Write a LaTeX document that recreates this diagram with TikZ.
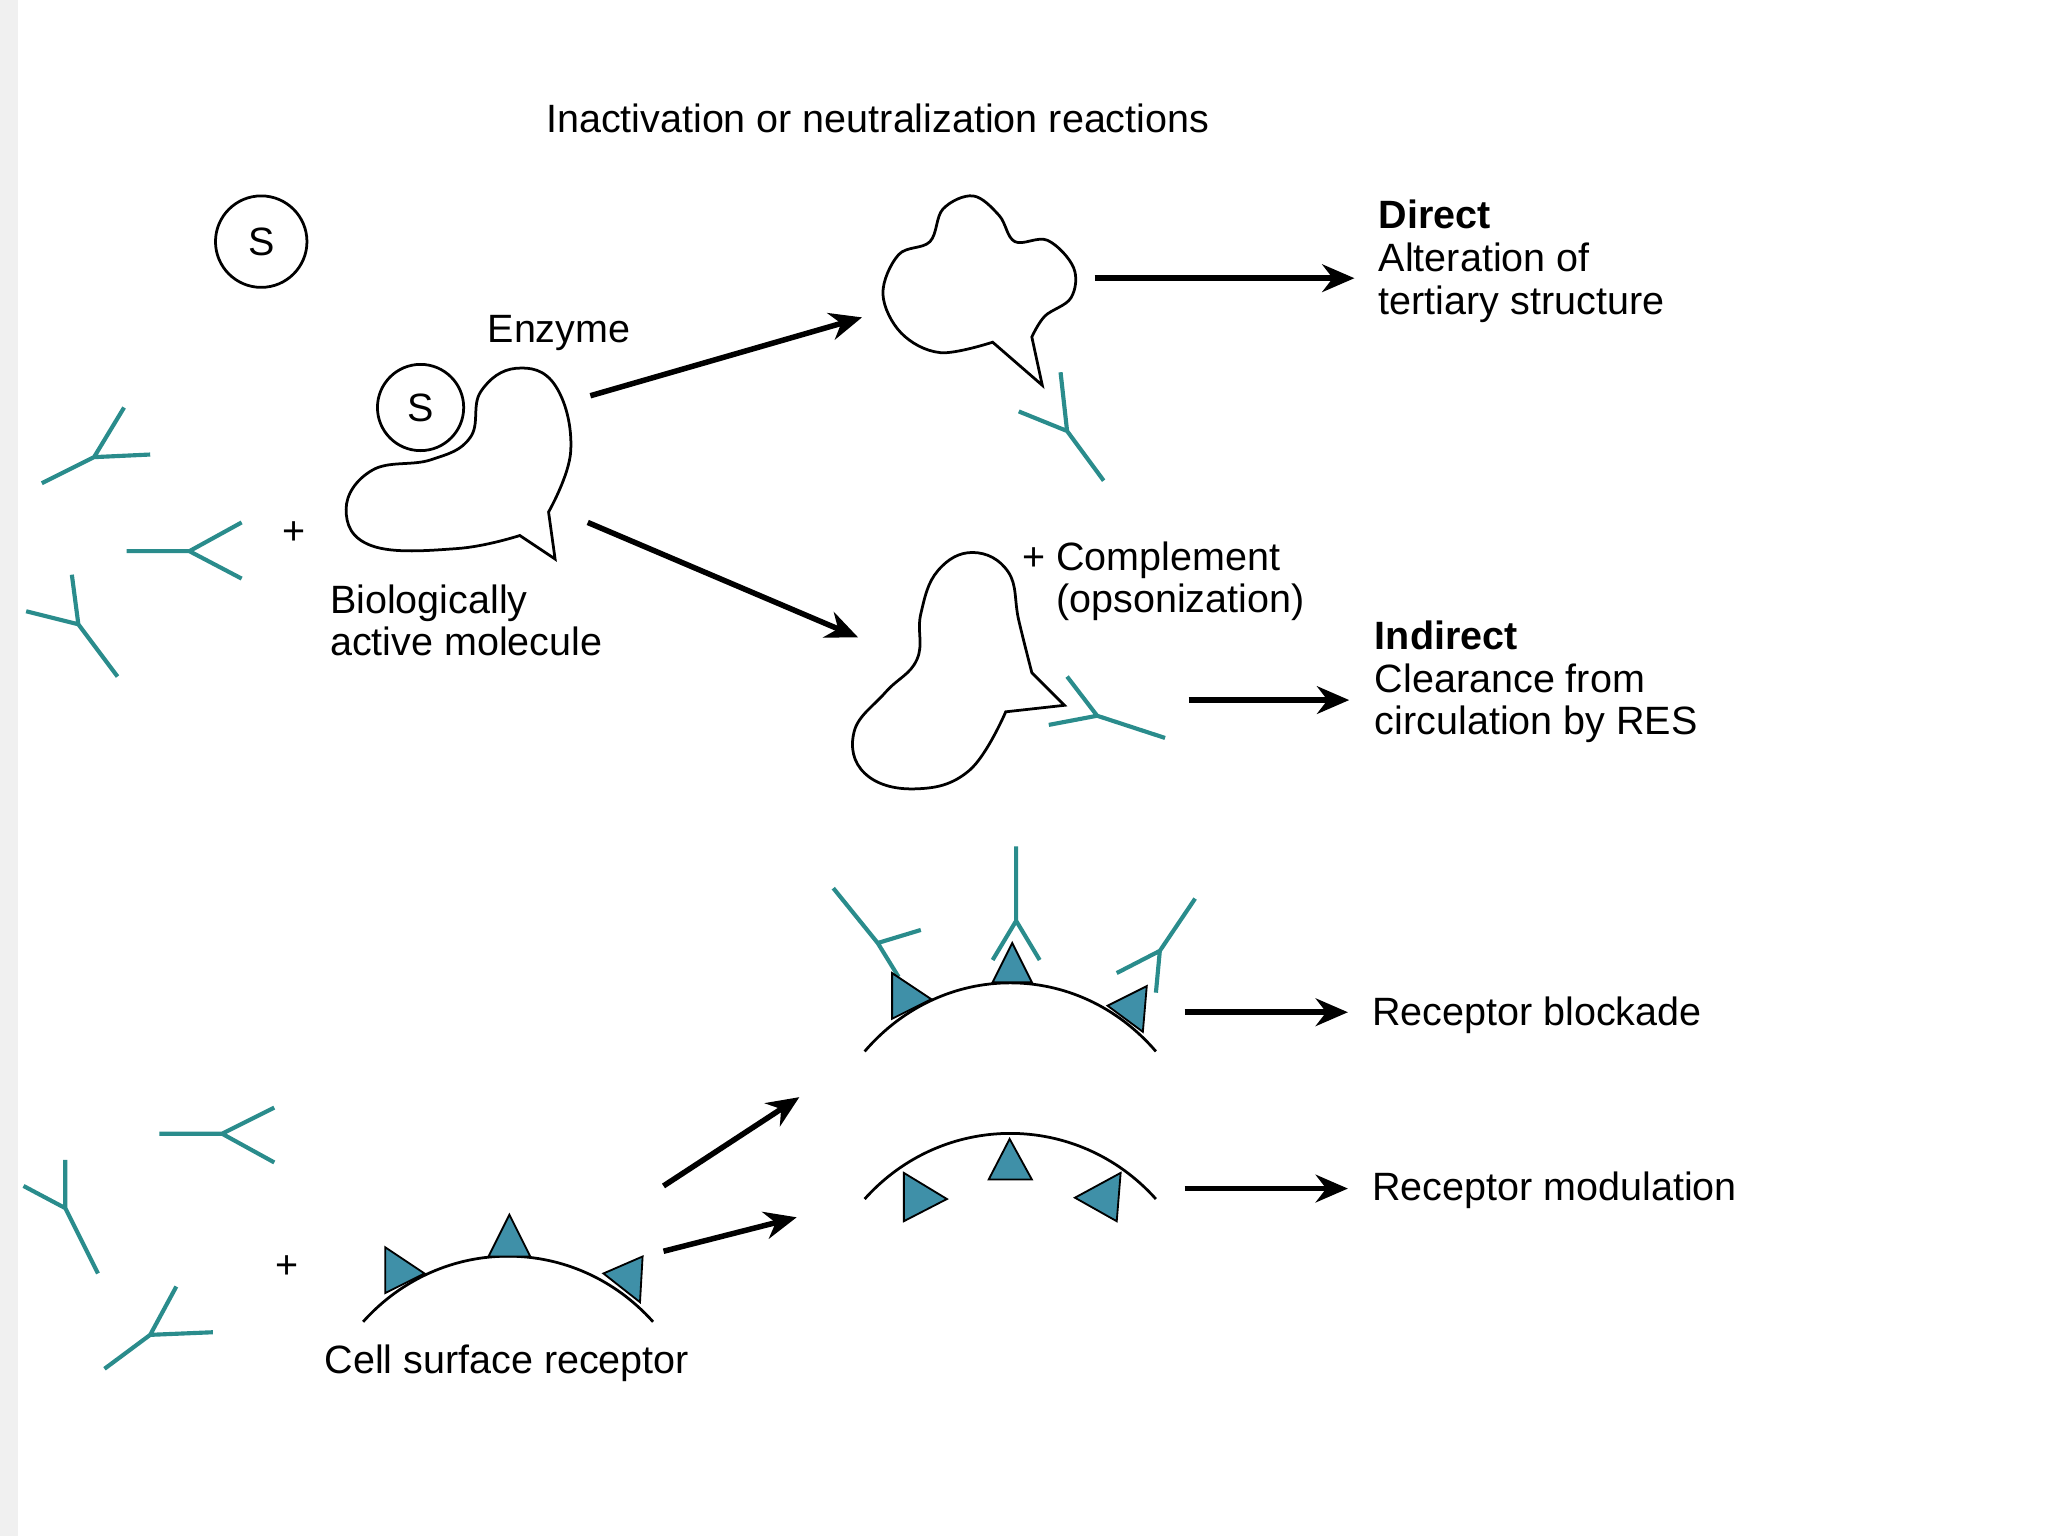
\documentclass[tikz,border=0pt]{standalone}
\usepackage{fontspec}
\setmainfont{Liberation Sans}
\usetikzlibrary{arrows.meta}
\definecolor{ab}{HTML}{2A8C8C}
\definecolor{rc}{HTML}{3F90A8}
\begin{document}
\begin{tikzpicture}[x=0.01cm,y=-0.01cm,
  every node/.style={font=\fontsize{8.6}{9.3}\selectfont,inner sep=0pt},
  lbl/.style={anchor=west,align=left},
  big/.style={line width=1.2pt,-{Stealth[length=7pt,width=6pt]}},
  outl/.style={line width=0.6pt},
  abd/.style={ab,line width=0.9pt},
  rcp/.style={fill=rc,draw=black,line width=0.4pt}]
\useasboundingbox (0,0) rectangle (1568,1176);
\fill[black!6] (0,0) rectangle (14,1176);
% antibody: fork, stem end, arm, arm
\newcommand{\antib}[4]{\draw[abd] #2 -- #1 -- #3 #1 -- #4;}
\antib{(72,350)}{(115,348)}{(95,312)}{(32,370)}
\antib{(145,422)}{(97,422)}{(185,400)}{(185,443)}
\antib{(60,478)}{(90,518)}{(55,440)}{(20,468)}
\antib{(817,330)}{(845,368)}{(812,285)}{(780,315)}
\antib{(840,548)}{(892,565)}{(817,518)}{(803,555)}
\antib{(672,722)}{(688,748)}{(638,680)}{(705,712)}
\antib{(778,705)}{(778,648)}{(760,735)}{(796,735)}
\antib{(888,728)}{(885,760)}{(915,688)}{(855,745)}
\antib{(170,868)}{(122,868)}{(210,848)}{(210,890)}
\antib{(50,925)}{(75,975)}{(50,888)}{(18,908)}
\antib{(115,1022)}{(80,1048)}{(135,985)}{(163,1020)}
% title
\node (title) at (672,91) {Inactivation or neutralization reactions};
% substrates
\node[draw,circle,outl,minimum size=0.7cm] (s1) at (200,185) {S};
\node[draw,circle,outl,minimum size=0.66cm] (s2) at (322,312) {S};
% enzyme
\draw[outl] plot[smooth,tension=0.7] coordinates {(420,392) (437,345) (425,295) (395,282) (368,300) (360,335) (330,352) (285,360) (265,390) (285,418) (350,420) (398,410)} -- (425,428) -- cycle;
\node (enz) at (428,255) {Enzyme};
\node (p1) at (225,408) {+};
\node[lbl] (bam) at (252,475) {Biologically\\active molecule};
% altered molecule
\draw[outl] plot[smooth,tension=0.6] coordinates {(760,262) (720,270) (690,255) (676,225) (688,195) (712,185) (722,160) (745,150) (765,165) (777,185) (802,184) (822,205) (820,228) (800,242) (790,258)} -- (798,295) -- cycle;
% opsonized molecule
\draw[outl] plot[smooth,tension=0.7] coordinates {(790,515) (780,475) (772,438) (745,423) (718,437) (705,470) (702,505) (678,530) (654,560) (662,592) (700,604) (742,590) (770,545)} -- (815,540) -- cycle;
\node[lbl] (comp) at (782,445) {+ Complement\\\hphantom{+ }(opsonization)};
% right labels
\node[lbl] (dir) at (1055,200) {\textbf{Direct}\\Alteration of\\tertiary structure};
\node[lbl] (ind) at (1052,522) {\textbf{Indirect}\\Clearance from\\circulation by RES};
\node[lbl] (rb) at (1050,777) {Receptor blockade};
\node[lbl] (rm) at (1050,911) {Receptor modulation};
\node (p2) at (220,970) {+};
\node (csr) at (388,1044) {Cell surface receptor};
% receptors
\draw[outl] (278,1012) .. controls (338,945) and (440,945) .. (500,1012);
\draw[rcp] (295,955) -- (295,990) -- (325,975) -- cycle;
\draw[rcp] (374,962) -- (406,962) -- (390,930) -- cycle;
\draw[rcp] (462,975) -- (492,962) -- (490,997) -- cycle;
\draw[outl] (662,805) .. controls (722,735) and (825,735) .. (885,805);
\draw[rcp] (683,745) -- (683,780) -- (713,765) -- cycle;
\draw[rcp] (760,752) -- (790,752) -- (775,722) -- cycle;
\draw[rcp] (848,770) -- (878,755) -- (875,790) -- cycle;
\draw[outl] (662,918) .. controls (722,851) and (825,851) .. (885,918);
\draw[rcp] (692,898) -- (692,935) -- (725,918) -- cycle;
\draw[rcp] (757,903) -- (790,903) -- (773,872) -- cycle;
\draw[rcp] (823,917) -- (858,898) -- (855,935) -- cycle;
% arrows
\coordinate (a1s) at (452,303); \coordinate (a1e) at (660,243);
\coordinate (a2s) at (450,400); \coordinate (a2e) at (657,488);
\coordinate (a3s) at (838,213); \coordinate (a3e) at (1037,213);
\coordinate (a4s) at (910,536); \coordinate (a4e) at (1033,536);
\coordinate (a5s) at (508,908); \coordinate (a5e) at (612,840);
\coordinate (a6s) at (508,958); \coordinate (a6e) at (610,932);
\coordinate (a7s) at (907,775); \coordinate (a7e) at (1032,775);
\coordinate (a8s) at (907,910); \coordinate (a8e) at (1032,910);
\foreach \i in {1,...,8} \draw[big] (a\i s) -- (a\i e);
\end{tikzpicture}
\end{document}
